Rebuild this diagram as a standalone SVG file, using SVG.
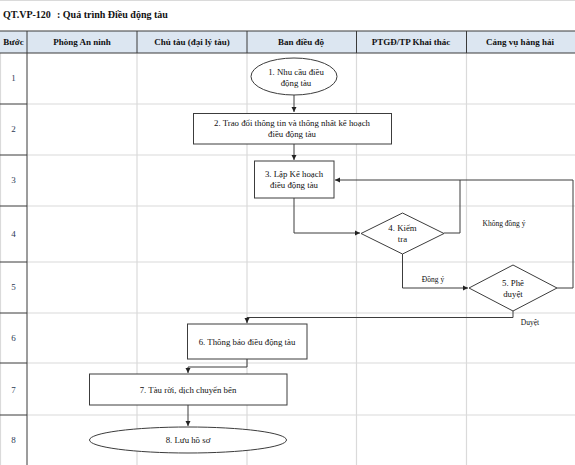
<svg xmlns="http://www.w3.org/2000/svg" width="575" height="465" viewBox="0 0 575 465">
<style>
text{font-family:"Liberation Serif","Times New Roman",serif;fill:#111;}
.t{font-size:10px;font-weight:bold;}
.h{font-size:9px;font-weight:bold;text-anchor:middle;}
.n{font-size:9px;text-anchor:middle;fill:#2b3a55;}
.l{font-size:8.8px;text-anchor:middle;}
.s{font-size:7.5px;text-anchor:middle;}
.grid{stroke:#dadada;stroke-width:1.2;fill:none;}
.dark{stroke:#3a3a3a;stroke-width:1;fill:none;}
.shape{fill:#fff;stroke:#3c3c3c;stroke-width:1;}
.c{fill:none;stroke:#3c3c3c;stroke-width:1;}
</style>
<defs>
<marker id="a" markerWidth="6" markerHeight="6" refX="5" refY="3" orient="auto" markerUnits="userSpaceOnUse">
<path d="M0,0.5 L5,3 L0,5.5 z" fill="#222"/>
</marker>
</defs>
<rect x="0" y="0" width="575" height="465" fill="#fff"/>
<line x1="0" y1="0.5" x2="575" y2="0.5" class="grid"/>
<text class="t" x="3" y="18">QT.VP-120</text>
<text class="t" x="57" y="18">: Quá trình Điều động tàu</text>
<g id="table">
<rect x="0" y="31" width="575" height="22" fill="#dce6f1"/>
<g class="grid">
<line x1="137" y1="53" x2="137" y2="465"/>
<line x1="247" y1="53" x2="247" y2="465"/>
<line x1="356.5" y1="53" x2="356.5" y2="465"/>
<line x1="466.5" y1="53" x2="466.5" y2="465"/>
<line x1="27" y1="104" x2="575" y2="104"/>
<line x1="27" y1="155" x2="575" y2="155"/>
<line x1="27" y1="206" x2="575" y2="206"/>
<line x1="27" y1="262" x2="575" y2="262"/>
<line x1="27" y1="313" x2="575" y2="313"/>
<line x1="27" y1="363" x2="575" y2="363"/>
<line x1="27" y1="415" x2="575" y2="415"/>
<line x1="0.5" y1="53" x2="0.5" y2="465"/>
</g>
<g class="dark">
<line x1="0" y1="31" x2="575" y2="31"/>
<line x1="0" y1="53" x2="575" y2="53"/>
<line x1="27" y1="31" x2="27" y2="465"/>
<line x1="137" y1="31" x2="137" y2="53"/>
<line x1="247" y1="31" x2="247" y2="53"/>
<line x1="356.5" y1="31" x2="356.5" y2="53"/>
<line x1="466.5" y1="31" x2="466.5" y2="53"/>
<line x1="0" y1="104" x2="27" y2="104"/>
<line x1="0" y1="155" x2="27" y2="155"/>
<line x1="0" y1="206" x2="27" y2="206"/>
<line x1="0" y1="262" x2="27" y2="262"/>
<line x1="0" y1="313" x2="27" y2="313"/>
<line x1="0" y1="363" x2="27" y2="363"/>
<line x1="0" y1="415" x2="27" y2="415"/>
</g>
<text class="h" x="13.5" y="45">Bước</text>
<text class="h" x="82" y="45">Phòng An ninh</text>
<text class="h" x="192" y="45">Chủ tàu (đại lý tàu)</text>
<text class="h" x="301" y="45">Ban điều độ</text>
<text class="h" x="411" y="45">PTGĐ/TP Khai thác</text>
<text class="h" x="520" y="45">Cảng vụ hàng hải</text>
<text class="n" x="13.5" y="81">1</text>
<text class="n" x="13.5" y="132">2</text>
<text class="n" x="13.5" y="183">3</text>
<text class="n" x="13.5" y="237">4</text>
<text class="n" x="13.5" y="290">5</text>
<text class="n" x="13.5" y="341">6</text>
<text class="n" x="13.5" y="393">7</text>
<text class="n" x="13.5" y="443">8</text>
</g>
<g id="connectors">
<line class="c" x1="294" y1="95" x2="294" y2="112" marker-end="url(#a)"/>
<line class="c" x1="294" y1="144" x2="294" y2="160" marker-end="url(#a)"/>
<polyline class="c" points="294,198 294,233 360,233" marker-end="url(#a)"/>
<polyline class="c" points="402.5,254 402.5,288 468,288" marker-end="url(#a)"/>
<polyline class="c" points="444,233 460,233 460,180 335,180" marker-end="url(#a)"/>
<polyline class="c" points="557,288 573,288 573,180 460,180"/>
<polyline class="c" points="513,311 513,317.5 247,317.5 247,323" marker-end="url(#a)"/>
<polyline class="c" points="247,359 247,367 188,367 188,373" marker-end="url(#a)"/>
<line class="c" x1="188" y1="405" x2="188" y2="426" marker-end="url(#a)"/>
<text class="s" x="433" y="282">Đồng ý</text>
<text class="s" x="504" y="226">Không đồng ý</text>
<text class="s" x="530" y="325">Duyệt</text>
</g>
<g id="n1">
<ellipse class="shape" cx="294" cy="76.5" rx="43" ry="18.5"/>
<text class="l" x="296" y="75">1. Nhu cầu điều</text>
<text class="l" x="296" y="86">động tàu</text>
</g>
<g id="n2">
<rect class="shape" x="193.5" y="113.5" width="198" height="30.5"/>
<text class="l" x="292" y="126">2. Trao đổi thông tin và thống nhất kế hoạch</text>
<text class="l" x="292" y="137">điều động tàu</text>
</g>
<g id="n3">
<rect class="shape" x="254.5" y="161" width="79.5" height="37"/>
<text class="l" x="294" y="177">3. Lập Kế hoạch</text>
<text class="l" x="294" y="188">điều động tàu</text>
</g>
<g id="n4">
<polygon class="shape" points="361,233.5 402.5,213 444,233.5 402.5,254"/>
<text class="l" x="402.5" y="231">4. Kiểm</text>
<text class="l" x="402.5" y="242">tra</text>
</g>
<g id="n5">
<polygon class="shape" points="469,288 513,265 557,288 513,311"/>
<text class="l" x="513" y="286">5. Phê</text>
<text class="l" x="513" y="297">duyệt</text>
</g>
<g id="n6">
<rect class="shape" x="187.5" y="324" width="119.5" height="35"/>
<text class="l" x="247" y="345">6. Thông báo điều động tàu</text>
</g>
<g id="n7">
<rect class="shape" x="89.5" y="374" width="197.5" height="31"/>
<text class="l" x="188" y="393">7. Tàu rời, dịch chuyển bến</text>
</g>
<g id="n8">
<ellipse class="shape" cx="188" cy="440" rx="98.5" ry="13"/>
<text class="l" x="188" y="443">8. Lưu hồ sơ</text>
</g>
</svg>
